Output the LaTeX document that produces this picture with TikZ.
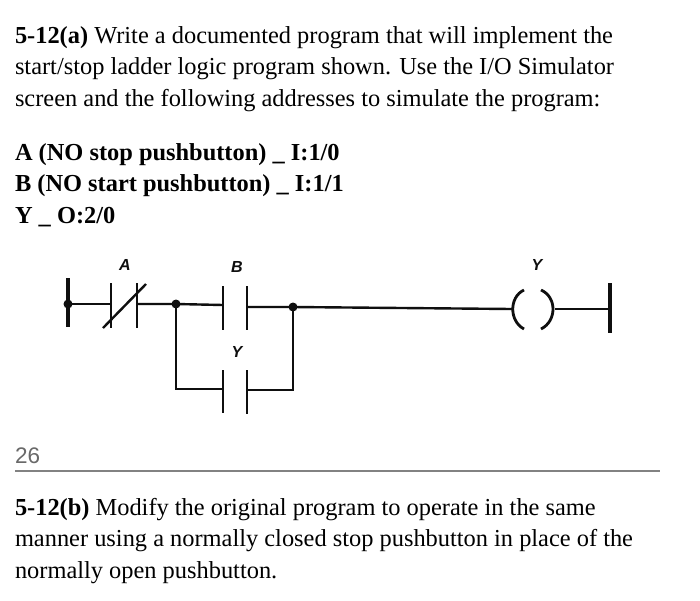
\documentclass[tikz,border=0pt]{standalone}
\usepackage{fontspec}
\setmainfont{Liberation Serif}
\newfontfamily\pgnumfont{Liberation Sans}
\newfontfamily\lblfont{Liberation Sans}
\definecolor{ink}{RGB}{15,15,15}
\definecolor{pggray}{RGB}{105,105,105}
\definecolor{rulegray}{RGB}{130,130,130}
\tikzset{
  txt/.style={anchor=base west, inner sep=0pt, outer sep=0pt, text=black, font=\fontsize{24.4}{31.5}\selectfont},
  lbl/.style={inner sep=0pt, text=ink, font=\lblfont\bfseries\itshape\fontsize{16}{16}\selectfont},
  wire/.style={draw=ink, line width=2.4pt},
  plate/.style={draw=ink, line width=2.8pt},
  rail/.style={draw=ink, line width=3.2pt},
  jdot/.style={fill=ink},
}
\begin{document}
\begin{tikzpicture}[x=1pt,y=-1pt]
\useasboundingbox (0,0) rectangle (700,600);
\fill[white] (0,0) rectangle (700,600);

% ---- question text (a)
\node[txt] (l1) at (15,43) {\textbf{5-12(a)} Write a documented program that will implement the};
\node[txt] (l2) at (15,74.5) {start/stop ladder logic program shown. Use the I/O Simulator};
\node[txt] (l3) at (15,106) {screen and the following addresses to simulate the program:};
\node[txt] (l4) at (15,160) {\textbf{A (NO stop pushbutton) \_ I:1/0}};
\node[txt] (l5) at (15,191.5) {\textbf{B (NO start pushbutton) \_ I:1/1}};
\node[txt] (l6) at (15,223) {\textbf{Y \_ O:2/0}};

% ---- ladder rung
\coordinate (Lt) at (68,278);
\coordinate (Lb) at (68,327);
\coordinate (L) at (68,304);
\coordinate (Aa) at (111,304);
\coordinate (Ab) at (137,304);
\coordinate (J1) at (176,304);
\coordinate (Ba) at (223,305);
\coordinate (Bb) at (247,307);
\coordinate (J2) at (293,307);
\coordinate (Ca) at (512,309);
\coordinate (Cb) at (555,309);
\coordinate (R) at (610,309);
\coordinate (Rt) at (610,283);
\coordinate (Rb) at (610,333);
\coordinate (K1) at (176,389);
\coordinate (Ya) at (223,389);
\coordinate (Yb) at (247,390);
\coordinate (K2) at (293,390);

\draw[rail] (Lt) -- (Lb);
\draw[wire] (L) -- (Aa);
% contact A (normally closed)
\draw[plate] (111,283) -- (111,328);
\draw[plate] (137,283) -- (137,328);
\draw[wire] (103,328) -- (146,284);
\draw[wire] (Ab) -- (J1) -- (Ba);
% contact B
\draw[plate] (223,286) -- (223,330);
\draw[plate] (247,286) -- (247,330);
\draw[wire] (Bb) -- (J2) -- (Ca);
% branch with contact Y
\draw[wire] (J1) -- (K1) -- (Ya);
\draw[plate] (223,370) -- (223,413);
\draw[plate] (247,370) -- (247,414);
\draw[wire] (Yb) -- (K2) -- (J2);
% coil Y
\draw[plate] (524,290) .. controls (509,297) and (509,321) .. (524,329);
\draw[plate] (541,290) .. controls (557,297) and (557,321) .. (541,329);
\draw[wire] (Cb) -- (R);
\draw[rail] (Rt) -- (Rb);
% junction dots
\fill[jdot] (L) circle (4.5);
\fill[jdot] (J1) circle (4.5);
\fill[jdot] (J2) circle (4.5);

% labels
\node[lbl] (labA) at (125,265) {A};
\node[lbl] (labB) at (237,267) {B};
\node[lbl] (labY1) at (237,352) {Y};
\node[lbl] (labY2) at (537,265) {Y};

% ---- page number and rule
\node[anchor=base west, inner sep=0pt, text=pggray, font=\pgnumfont\fontsize{22.5}{22.5}\selectfont] (pg) at (15,463) {26};
\coordinate (r1) at (15,471);
\coordinate (r2) at (660,471);
\draw[draw=rulegray, line width=1.5pt] (r1) -- (r2);

% ---- question text (b)
\node[txt] (m1) at (15,515) {\textbf{5-12(b)} Modify the original program to operate in the same};
\node[txt] (m2) at (15,546.5) {manner using a normally closed stop pushbutton in place of the};
\node[txt] (m3) at (15,578) {normally open pushbutton.};
\end{tikzpicture}
\end{document}
